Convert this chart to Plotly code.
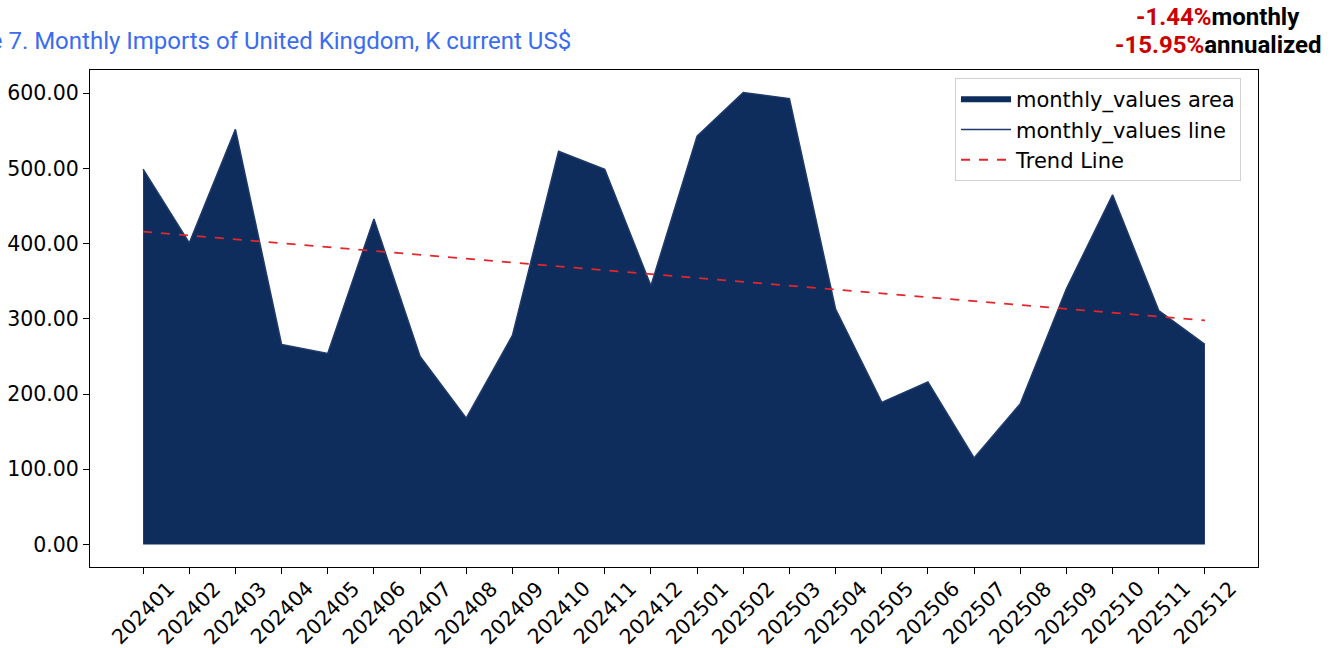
import plotly.graph_objects as go

months = ["202401","202402","202403","202404","202405","202406","202407","202408",
          "202409","202410","202411","202412","202501","202502","202503","202504",
          "202505","202506","202507","202508","202509","202510","202511","202512"]
monthly_values = [499, 401, 552, 266, 254, 433, 250, 168, 278, 523, 499, 344,
                  543, 601, 593, 313, 189, 216, 115, 187, 340, 465, 311, 266]
trend_start = 416
trend_end = 298
monthly_pct = "-1.44%"
annual_pct = "-15.95%"
title_text = "Figure 7. Monthly Imports of United Kingdom, K current US$"
y_ticks = [0, 100, 200, 300, 400, 500, 600]

navy = "#0e2d5c"
red = "#e3262a"

W, H = 1341, 648
L, R, T, B = 90, 83, 70, 81
pw, ph = W - L - R, H - T - B

fig = go.Figure()
fig.add_trace(go.Scatter(x=months, y=monthly_values, mode="none", fill="tozeroy",
                         fillcolor=navy, name="monthly_values area"))
fig.add_trace(go.Scatter(x=months, y=monthly_values, mode="lines",
                         line=dict(color="#1f3a6b", width=1.5), name="monthly_values line"))
fig.add_trace(go.Scatter(x=[months[0], months[-1]], y=[trend_start, trend_end], mode="lines",
                         line=dict(color=red, width=1.8, dash="dash"), name="Trend Line"))

tickfont = dict(family="DejaVu Sans", size=20.5, color="black")

annotations = [
    dict(text=title_text, xref="paper", yref="paper",
         x=(573 - L) / pw, y=(H - B - 41) / ph, xanchor="right", yanchor="middle",
         showarrow=False, font=dict(family="Roboto", size=24, color="#3a6cf0")),
    dict(text=f"<b><span style='color:#cc0000'>{monthly_pct}</span>monthly</b>",
         xref="paper", yref="paper", x=(1302 - L) / pw, y=(H - B - 17) / ph,
         xanchor="right", yanchor="middle", showarrow=False,
         font=dict(family="Roboto", size=24, color="black")),
    dict(text=f"<b><span style='color:#cc0000'>{annual_pct}</span>annualized</b>",
         xref="paper", yref="paper", x=(1323 - L) / pw, y=(H - B - 45) / ph,
         xanchor="right", yanchor="middle", showarrow=False,
         font=dict(family="Roboto", size=24, color="black")),
]
for i, m in enumerate(months):
    annotations.append(dict(text=m, x=i, xref="x", yref="paper", y=-(613 - (H - B)) / ph,
                            xanchor="center", yanchor="middle", textangle=-45,
                            showarrow=False, font=tickfont))

fig.update_layout(
    width=W, height=H,
    margin=dict(l=L, r=R, t=T, b=B, autoexpand=False),
    paper_bgcolor="white", plot_bgcolor="white",
    showlegend=True,
    legend=dict(x=(955 - L) / pw, y=(H - B - 78) / ph, xanchor="left", yanchor="top",
                bgcolor="white", bordercolor="#d0d0d0", borderwidth=1,
                itemwidth=50,
                font=dict(family="DejaVu Sans", size=21, color="black")),
    xaxis=dict(type="category", range=[-1.15, len(months) - 1 + 1.15],
               showgrid=False, zeroline=False, showline=True, linecolor="black", linewidth=1,
               mirror=True, ticks="outside", ticklen=6, tickcolor="black",
               showticklabels=False),
    yaxis=dict(range=[-30, 631], tickvals=y_ticks,
               ticktext=[f"{v:.2f}" for v in y_ticks],
               showgrid=False, zeroline=False, showline=True, linecolor="black", linewidth=1,
               mirror=True, ticks="outside", ticklen=6, tickcolor="black",
               tickfont=tickfont),
    annotations=annotations,
)

fig.write_html("out.html", config={"displayModeBar": False},
               post_script="document.body.style.margin='0';")
